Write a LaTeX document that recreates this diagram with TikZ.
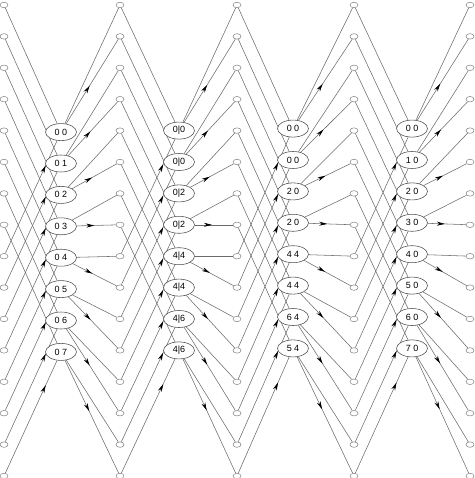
\documentclass[tikz,border=0pt]{standalone}
\usepackage{fontspec}
\setmainfont{Liberation Sans}
\usetikzlibrary{arrows.meta,decorations.markings,shapes.geometric}
\pgfdeclarelayer{bg}\pgfsetlayers{bg,main}
\begin{document}
\begin{tikzpicture}[x=1pt,y=-1pt,
 port/.style={ellipse,draw=black!50,fill=white,line width=0.5pt,minimum width=8pt,minimum height=5.5pt,inner sep=0pt},
 sw/.style={ellipse,draw=black!70,fill=white,line width=0.55pt,minimum width=31pt,minimum height=17pt,inner sep=0pt,font=\fontsize{9}{10}\selectfont},
 wire/.style={draw=black!58,line width=0.55pt},
 midarr/.style={postaction={decorate},decoration={markings,mark=at position #1 with {\arrow{Stealth[length=8pt,width=4pt,color=black]}}}},
]
\useasboundingbox (0,0) rectangle (474,478);
\foreach \c/\x in {0/4,1/120,2/237,3/354,4/470}{
  \foreach \j in {0,...,15}{
    \node[port] (p\c-\j) at (\x,{5+31.4*\j}) {};
  }
}
\foreach \lab [count=\k from 4] in {0 0,0 1,0 2,0 3,0 4,0 5,0 6,0 7}{
  \pgfmathtruncatemacro\i{\k-4}
  \node[sw] (s0-\i) at (61,{5+31.4*\k+1.5}) {\lab};
}
\foreach \lab [count=\k from 4] in {0|0,0|0,0|2,0|2,4|4,4|4,4|6,4|6}{
  \pgfmathtruncatemacro\i{\k-4}
  \node[sw] (s1-\i) at (179,{5+31.4*\k}) {\lab};
}
\foreach \lab [count=\k from 4] in {0 0,0 0,2 0,2 0,4 4,4 4,6 4,5 4}{
  \pgfmathtruncatemacro\i{\k-4}
  \node[sw] (s2-\i) at (293,{5+31.4*\k-2}) {\lab};
}
\foreach \lab [count=\k from 4] in {0 0,1 0,2 0,3 0,4 0,5 0,6 0,7 0}{
  \pgfmathtruncatemacro\i{\k-4}
  \node[sw] (s3-\i) at (412,{5+31.4*\k-2}) {\lab};
}
\begin{pgfonlayer}{bg}
\foreach \c in {0,...,3}{
  \pgfmathtruncatemacro\cn{\c+1}
  \foreach \j in {0,...,15}{
    \pgfmathtruncatemacro\i{mod(\j,8)}
    \ifnum\j<8
      \draw[wire] (p\c-\j) -- (s\c-\i);
    \else
      \draw[wire,midarr=0.78] (p\c-\j) -- (s\c-\i);
    \fi
  }
  \foreach \i in {0,...,7}{
    \pgfmathtruncatemacro\a{2*\i}
    \pgfmathtruncatemacro\b{2*\i+1}
    \draw[wire] (s\c-\i) -- (p\cn-\a);
    \draw[wire,midarr=0.45] (s\c-\i) -- (p\cn-\b);
  }
}
\end{pgfonlayer}
\end{tikzpicture}
\end{document}
